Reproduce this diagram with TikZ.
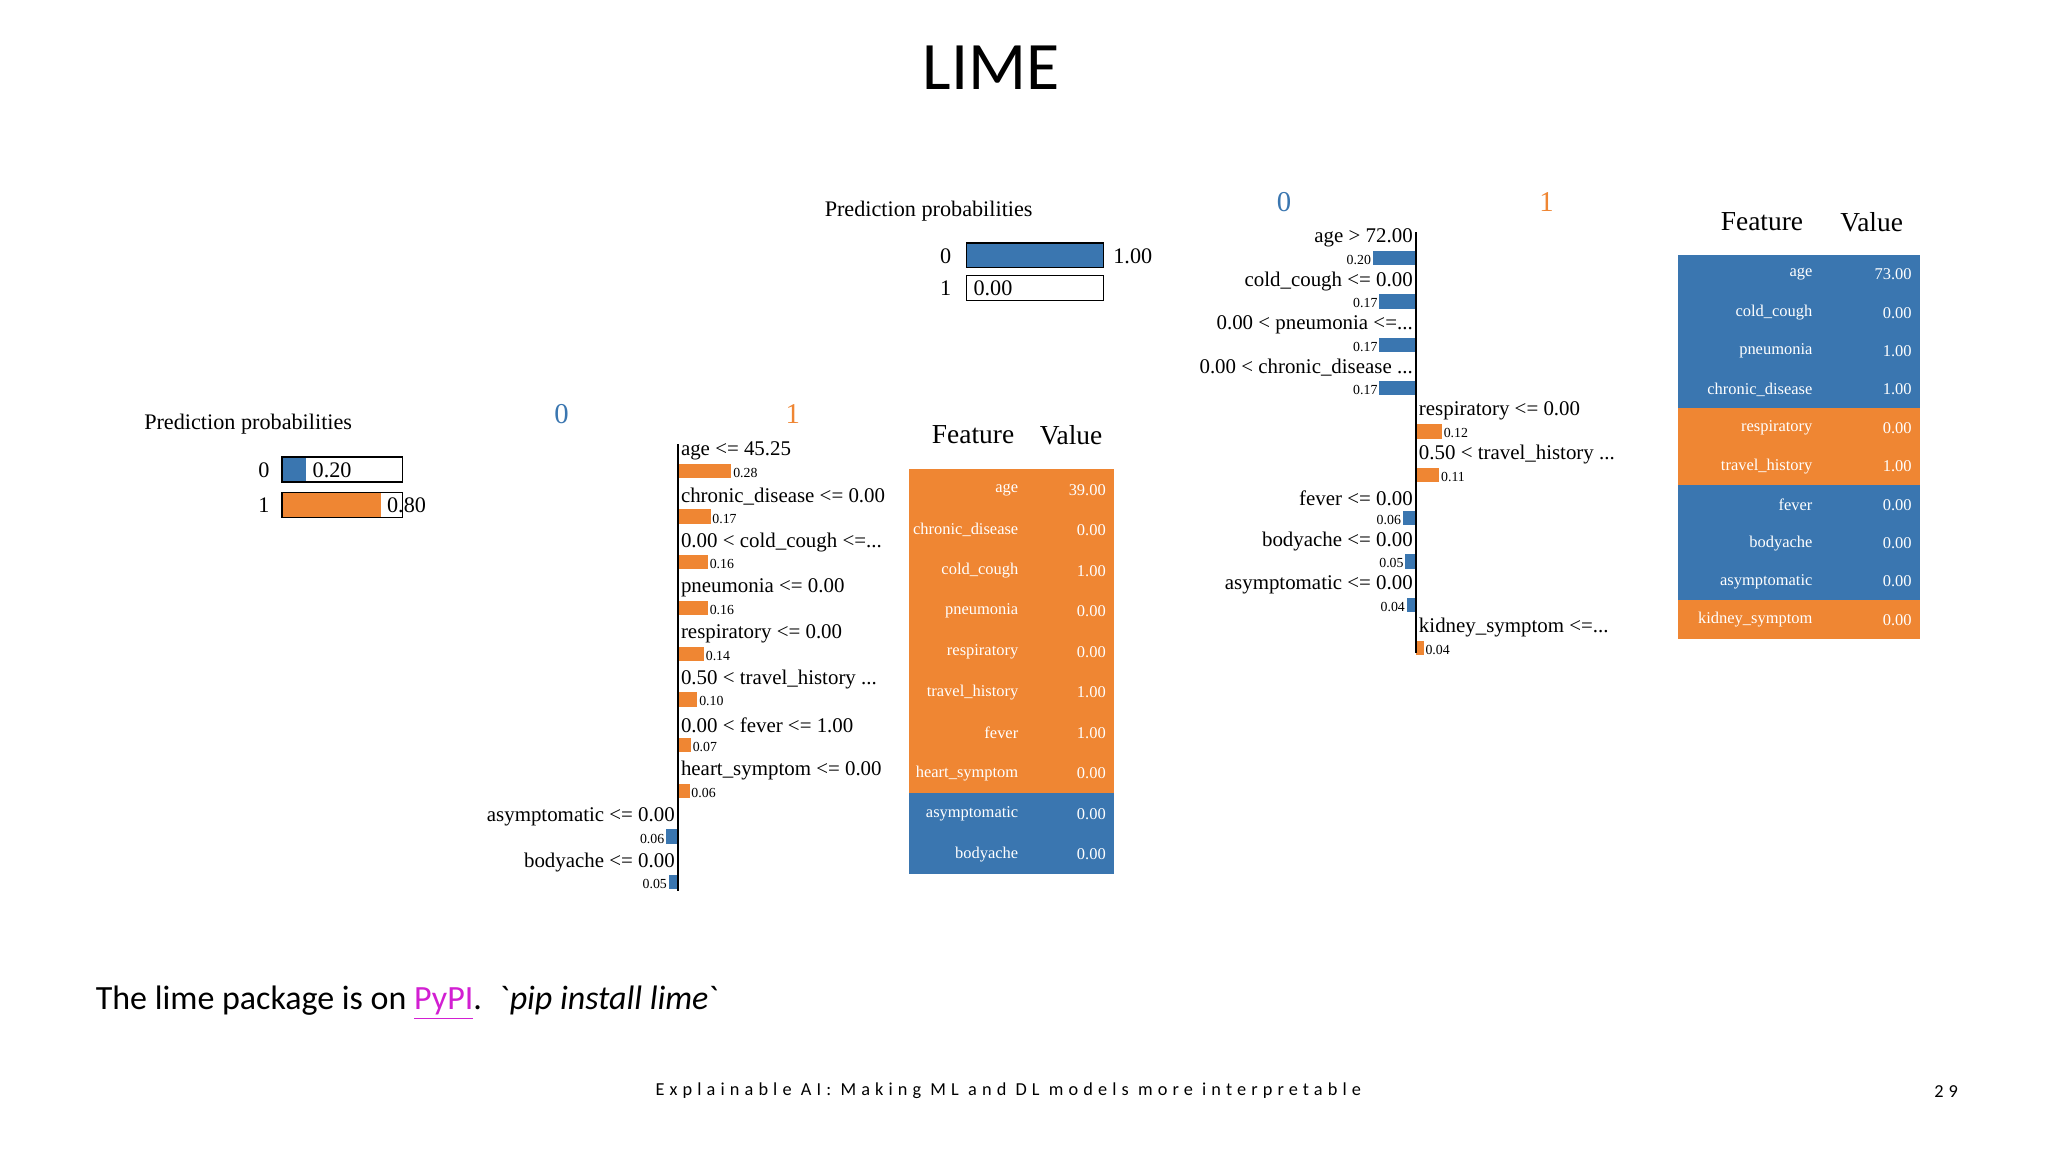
\documentclass[tikz,border=0pt]{standalone}
\usepackage{fontspec}
\setmainfont{Liberation Serif}
\newfontfamily\carl{Carlito}
\newcommand\tdots{...}
\definecolor{lblue}{HTML}{3A76B0}
\definecolor{lorange}{HTML}{EF8633}
\definecolor{pypi}{HTML}{D21FD2}
\begin{document}
\begin{tikzpicture}[x=0.5pt,y=-0.5pt,
  lab/.style={inner sep=0.5pt,font=\fontsize{8}{9}\selectfont},
  val/.style={inner sep=0.5pt,font=\fontsize{5.3}{6}\selectfont},
  cls/.style={font=\fontsize{11}{12}\selectfont},
  hdr/.style={font=\fontsize{10.5}{12}\selectfont},
  cell/.style={text=white,inner sep=0pt,font=\fontsize{6.3}{7}\selectfont},
  pp/.style={font=\fontsize{8.5}{10}\selectfont},
  bx/.style={draw=black,line width=0.5pt}]
\useasboundingbox (0,0) rectangle (1568,882);
\fill[white] (0,0) rectangle (1568,882);
% title
\node[font=\carl\fontsize{26}{30}\selectfont] (title) at (759,52) {LIME};
% left prediction probabilities
\node[pp] (pp1) at (190,325) {Prediction probabilities};
\node[pp] (pl0) at (202,360) {0};
\node[pp] (pl1) at (202,387) {1};
\fill[lblue] (216,350) rectangle (234,369);
\draw[bx] (216,350) rectangle (308,369);
\node[pp,anchor=west,inner sep=0pt] (pv0) at (239,360) {0.20};
\fill[lorange] (216,377) rectangle (292,396);
\draw[bx] (216,377) rectangle (308,396);
\node[pp,anchor=west,inner sep=0pt] (pv1) at (296,387) {0.80};
% top prediction probabilities
\node[pp] (pp2) at (711,162) {Prediction probabilities};
\node[pp] (ql0) at (724,196) {0};
\node[pp] (ql1) at (724,221) {1};
\fill[lblue] (740,186) rectangle (845,205);
\draw[bx] (740,186) rectangle (845,205);
\draw[bx] (740,211) rectangle (845,230);
\node[pp,anchor=west,inner sep=0pt] (qv0) at (852,196) {1.00};
\node[pp,anchor=west,inner sep=0pt] (qv1) at (745,221) {0.00};
% middle chart
\node[cls,text=lblue] (mc0) at (430,317) {0};
\node[cls,text=lorange] (mc1) at (607,317) {1};
\foreach \i/\l/\w/\v in {0/age <= 45.25/41/0.28,1/chronic\_disease <= 0.00/25/0.17,2/0.00 < cold\_cough <=\tdots/23/0.16,3/pneumonia <= 0.00/23/0.16,4/respiratory <= 0.00/20/0.14,5/0.50 < travel\_history \tdots/15/0.10,6/0.00 < fever <= 1.00/10/0.07,7/heart\_symptom <= 0.00/9/0.06}{
  \pgfmathsetmacro\yy{345+35*\i}
  \node[lab,anchor=west] (ml\i) at (520,\yy) {\l};
  \fill[lorange] (519,\yy+10) rectangle (519+\w,\yy+21);
  \node[val,anchor=west] (mv\i) at (519+\w,\yy+17) {\v};
}
\foreach \i/\l/\w/\v in {8/asymptomatic <= 0.00/9/0.06,9/bodyache <= 0.00/7/0.05}{
  \pgfmathsetmacro\yy{345+35*\i}
  \node[lab,anchor=east] (ml\i) at (518,\yy) {\l};
  \fill[lblue] (519-\w,\yy+10) rectangle (519,\yy+21);
  \node[val,anchor=east] (mv\i) at (519-\w,\yy+17) {\v};
}
\coordinate (ma0) at (519,340);
\coordinate (ma1) at (519,682);
\draw[line width=1pt] (ma0) -- (ma1);
% middle table
\node[hdr] (mh1) at (745,333) {Feature};
\node[hdr] (mh2) at (820,333) {Value};
\foreach \i/\f/\v/\c in {0/age/39.00/lorange,1/chronic\_disease/0.00/lorange,2/cold\_cough/1.00/lorange,3/pneumonia/0.00/lorange,4/respiratory/0.00/lorange,5/travel\_history/1.00/lorange,6/fever/1.00/lorange,7/heart\_symptom/0.00/lorange,8/asymptomatic/0.00/lblue,9/bodyache/0.00/lblue}{
  \pgfmathsetmacro\yy{359+31*\i}
  \fill[\c] (696,\yy) rectangle (853,\yy+31.2);
  \node[cell,anchor=east] (mtf\i) at (780,\yy+16) {\f};
  \node[cell,anchor=east] (mtv\i) at (847,\yy+16) {\v};
}
% right chart
\node[cls,text=lblue] (rc0) at (983,155) {0};
\node[cls,text=lorange] (rc1) at (1184,155) {1};
\foreach \i/\l/\w/\v in {0/age > 72.00/33/0.20,1/cold\_cough <= 0.00/28/0.17,2/0.00 < pneumonia <=\tdots/28/0.17,3/0.00 < chronic\_disease \tdots/28/0.17,6/fever <= 0.00/10/0.06,7/bodyache <= 0.00/8/0.05,8/asymptomatic <= 0.00/7/0.04}{
  \pgfmathsetmacro\yy{182+33.2*\i}
  \node[lab,anchor=east] (rl\i) at (1083,\yy) {\l};
  \fill[lblue] (1084-\w,\yy+10) rectangle (1084,\yy+21);
  \node[val,anchor=east] (rv\i) at (1084-\w,\yy+17) {\v};
}
\foreach \i/\l/\w/\v in {4/respiratory <= 0.00/20/0.12,5/0.50 < travel\_history \tdots/18/0.11,9/kidney\_symptom <=\tdots/6/0.04}{
  \pgfmathsetmacro\yy{182+33.2*\i}
  \node[lab,anchor=west] (rl\i) at (1085,\yy) {\l};
  \fill[lorange] (1084,\yy+10) rectangle (1084+\w,\yy+21);
  \node[val,anchor=west] (rv\i) at (1084+\w,\yy+17) {\v};
}
\coordinate (ra0) at (1084,178);
\coordinate (ra1) at (1084,500);
\draw[line width=1pt] (ra0) -- (ra1);
% right table
\node[hdr] (rh1) at (1349,170) {Feature};
\node[hdr] (rh2) at (1433,170) {Value};
\foreach \i/\f/\v/\c in {0/age/73.00/lblue,1/cold\_cough/0.00/lblue,2/pneumonia/1.00/lblue,3/chronic\_disease/1.00/lblue,4/respiratory/0.00/lorange,5/travel\_history/1.00/lorange,6/fever/0.00/lblue,7/bodyache/0.00/lblue,8/asymptomatic/0.00/lblue,9/kidney\_symptom/0.00/lorange}{
  \pgfmathsetmacro\yy{195+29.4*\i}
  \fill[\c] (1285,\yy) rectangle (1470,\yy+29.6);
  \node[cell,anchor=east] (rtf\i) at (1388,\yy+15) {\f};
  \node[cell,anchor=east] (rtv\i) at (1464,\yy+15) {\v};
}
% bottom text
\node[anchor=west,inner sep=0pt,font=\carl\fontsize{13}{15}\selectfont] (note) at (73,768)
  {The lime package is on \textcolor{pypi}{\underline{PyPI}}. \ `\textit{pip install lime}`};
\node[font=\carl\fontsize{7}{8}\selectfont\addfontfeature{LetterSpace=28}] (foot) at (772,835)
  {Explainable AI: Making ML and DL models more interpretable};
\node[font=\carl\fontsize{7}{8}\selectfont\addfontfeature{LetterSpace=28}] (page) at (1490,836) {29};
\end{tikzpicture}
\end{document}
